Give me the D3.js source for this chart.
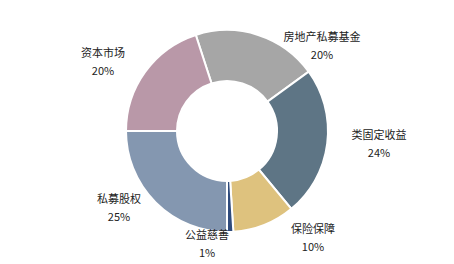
<!DOCTYPE html>
<html>
<head>
<meta charset="utf-8">
<script src="https://cdn.jsdelivr.net/npm/d3@7"></script>
<style>
  body { margin: 0; background: #fff; }
  .lbl { font-family: "Microsoft YaHei", "Noto Sans CJK SC", sans-serif; font-size: 11px; fill: #222; }
</style>
</head>
<body>
<div id="chart"></div>
<script>
// data, clockwise from the slice that starts just left of 12 o'clock
var categories = ["房地产私募基金", "类固定收益", "保险保障", "公益慈善", "私募股权", "资本市场"];
var shares = [20, 24, 10, 1, 25, 20];
var colors = ["#a6a6a6", "#5e7585", "#dec27e", "#2f4b7c", "#8497b0", "#b998a8"];

// label anchors (text centre) for each slice
var labelPos = [[322, 37], [379, 135], [313, 229], [207, 235], [119, 199], [103, 53]];

var width = 454, height = 264;
var cx = 227, cy = 131;
var outerR = 101, innerR = 50;

var svg = d3.select("#chart")
    .append("svg")
    .attr("width", width)
    .attr("height", height);

var pie = d3.pie()
    .sort(null)
    .value(function(d) { return d; })
    .startAngle(-18 * Math.PI / 180)
    .endAngle(342 * Math.PI / 180);

var arc = d3.arc()
    .innerRadius(innerR)
    .outerRadius(outerR);

var g = svg.append("g")
    .attr("transform", `translate(${cx},${cy})`);

g.selectAll(".slice")
    .data(pie(shares))
    .join("path")
    .attr("class", "slice")
    .attr("d", arc)
    .attr("fill", function(d, i) { return colors[i]; })
    .attr("stroke", "#fff")
    .attr("stroke-width", 2);

var labels = svg.selectAll(".lblGroup")
    .data(categories)
    .join("g")
    .attr("class", "lblGroup")
    .attr("transform", function(d, i) { return `translate(${labelPos[i][0]},${labelPos[i][1]})`; });

labels.append("text")
    .attr("class", "lbl")
    .attr("text-anchor", "middle")
    .attr("dy", "0.35em")
    .text(function(d) { return d; });

labels.append("text")
    .attr("class", "lbl")
    .attr("text-anchor", "middle")
    .attr("y", 18.5)
    .attr("dy", "0.35em")
    .text(function(d, i) { return shares[i] + "%"; });
</script>
</body>
</html>
